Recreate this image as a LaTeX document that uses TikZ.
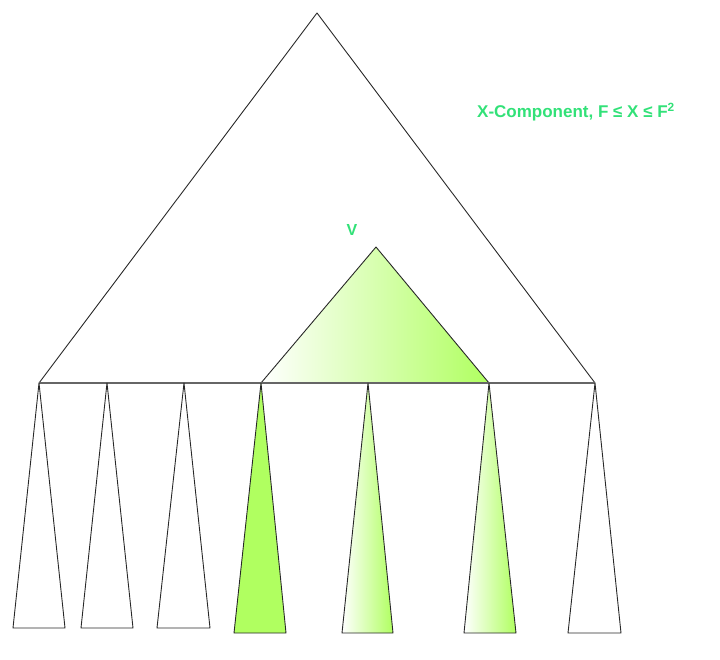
\documentclass[tikz,border=0pt]{standalone}
\usepackage{fontspec}
\setmainfont{Liberation Sans}
\definecolor{lbl}{RGB}{50,225,120}
\definecolor{lgreen}{RGB}{176,255,96}
\definecolor{edge}{RGB}{40,40,40}
\begin{document}
\begin{tikzpicture}[x=1pt,y=-1pt,
  tri/.style={draw=edge,line width=0.9pt,line join=round},
  grad/.style={tri,left color=white,right color=lgreen},
  solidg/.style={tri,fill=lgreen},
  lab/.style={text=lbl,font=\bfseries\fontsize{17}{19}\selectfont,inner sep=0pt}]
\useasboundingbox (0,0) rectangle (720,660);
% main triangle
\coordinate (top) at (317,13);
\coordinate (L) at (39,383);
\coordinate (R) at (595,383);
\draw[tri] (L) -- (top) -- (R);
% V subtree
\coordinate (vtop) at (376,247);
\coordinate (vl) at (261,383);
\coordinate (vr) at (489,383);
\draw[grad] (vl) -- (vtop) -- (vr) -- cycle;
\draw[draw=gray!80!black,line width=1.1pt] (L) -- (R);
% small subtrees
\coordinate (a2) at (107,383);
\coordinate (a3) at (184,383);
\coordinate (a5) at (368,383);
\draw[tri] (L) -- (13,628) -- (65,628) -- cycle;
\draw[tri] (a2) -- (81,628) -- (133,628) -- cycle;
\draw[tri] (a3) -- (157,628) -- (210,628) -- cycle;
\draw[solidg] (vl) -- (234,633) -- (286,633) -- cycle;
\draw[grad] (a5) -- (342,633) -- (393,633) -- cycle;
\draw[grad] (vr) -- (464,633) -- (516,633) -- cycle;
\draw[tri] (R) -- (568,633) -- (621,633) -- cycle;
% labels
\node[lab,font=\bfseries\fontsize{16}{18}\selectfont] (v) at (352,230) {V};
\node[lab] (xc) at (576,112) {X-Component, F ≤ X ≤ F\textsuperscript{2}};
\end{tikzpicture}
\end{document}
